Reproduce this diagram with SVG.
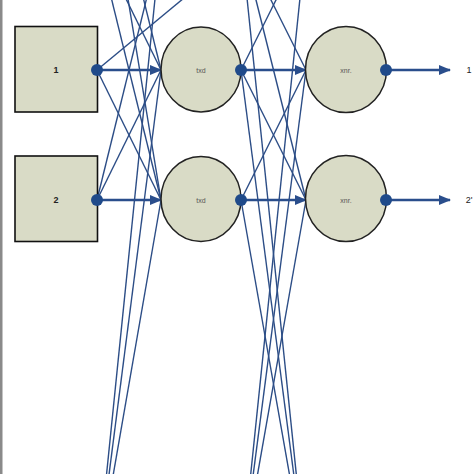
<svg xmlns="http://www.w3.org/2000/svg" width="474" height="474" viewBox="0 0 474 474">
<style>
.w{stroke:#2c4d86;stroke-width:1.4;fill:none}
.h{stroke:#2a4e8c;stroke-width:2.4;fill:none;marker-end:url(#ah)}
.box{fill:#d9dbc6;stroke:#111;stroke-width:1.6}
.neu{fill:#d9dbc6;stroke:#222;stroke-width:1.5}
.dot{fill:#1f4a8a}
.lb{font-family:"Liberation Sans",Arial,sans-serif;font-size:9px;font-weight:bold;fill:#222;text-anchor:middle;dominant-baseline:central}
.nt{font-family:"Liberation Sans",Arial,sans-serif;font-size:7px;fill:#555;text-anchor:middle;dominant-baseline:central}
</style>
<defs>
<marker id="ah" markerUnits="userSpaceOnUse" markerWidth="12" markerHeight="12" viewBox="0 0 12 12" refX="11" refY="6" orient="auto">
<path d="M0,1 L12,6 L0,11 Z" fill="#2a4e8c"/>
</marker>
</defs>
<rect x="0" y="0" width="2.5" height="474" fill="#8a8a8a"/>
<g id="connectors">
<line class="w" x1="97" y1="70" x2="161" y2="200"/>
<line class="w" x1="97" y1="200" x2="161" y2="70"/>
<line class="w" x1="97" y1="200" x2="161" y2="-60"/>
<line class="w" x1="97" y1="70" x2="184" y2="-2"/>
<line class="w" x1="97" y1="-60" x2="161" y2="70"/>
<line class="w" x1="97" y1="-60" x2="161" y2="200"/>
<line class="w" x1="97" y1="-190" x2="161" y2="70"/>
<line class="w" x1="97" y1="-190" x2="161" y2="200"/>
<line class="w" x1="97" y1="568" x2="161" y2="200"/>
<line class="w" x1="97" y1="568" x2="161" y2="70"/>
<line class="w" x1="97" y1="568" x2="161" y2="-60"/>
<line class="w" x1="241" y1="70" x2="306" y2="200"/>
<line class="w" x1="241" y1="200" x2="306" y2="70"/>
<line class="w" x1="241" y1="70" x2="306" y2="-60"/>
<line class="w" x1="241" y1="-60" x2="306" y2="70"/>
<line class="w" x1="241" y1="-60" x2="306" y2="200"/>
<line class="w" x1="241" y1="-60" x2="306" y2="568"/>
<line class="w" x1="241" y1="70" x2="306" y2="568"/>
<line class="w" x1="241" y1="200" x2="306" y2="568"/>
<line class="w" x1="241" y1="568" x2="306" y2="200"/>
<line class="w" x1="241" y1="568" x2="306" y2="70"/>
<line class="w" x1="241" y1="568" x2="306" y2="-60"/>
<line class="h" x1="97" y1="70" x2="161" y2="70"/>
<line class="h" x1="97" y1="200" x2="161" y2="200"/>
<line class="h" x1="241" y1="70" x2="306" y2="70"/>
<line class="h" x1="241" y1="200" x2="306" y2="200"/>
<line class="h" x1="386" y1="70" x2="450" y2="70"/>
<line class="h" x1="386" y1="200" x2="450" y2="200"/>
</g>
<g id="in1"><rect class="box" x="15" y="26.5" width="82.5" height="85.5"/><text class="lb" x="56" y="70">1</text></g>
<g id="in2"><rect class="box" x="15" y="156" width="82.5" height="85.5"/><text class="lb" x="56" y="200">2</text></g>
<g id="h1"><ellipse class="neu" cx="201" cy="69.5" rx="40" ry="42.5"/><text class="nt" x="201" y="70">txd</text></g>
<g id="h2"><ellipse class="neu" cx="201" cy="199" rx="40" ry="42.5"/><text class="nt" x="201" y="200">txd</text></g>
<g id="o1"><ellipse class="neu" cx="346" cy="69.5" rx="40.5" ry="43"/><text class="nt" x="346" y="70">xnr.</text></g>
<g id="o2"><ellipse class="neu" cx="346" cy="198.5" rx="40.5" ry="43"/><text class="nt" x="346" y="200">xnr.</text></g>
<g id="dots">
<circle class="dot" cx="97" cy="70" r="6"/>
<circle class="dot" cx="97" cy="200" r="6"/>
<circle class="dot" cx="241" cy="70" r="6"/>
<circle class="dot" cx="241" cy="200" r="6"/>
<circle class="dot" cx="386" cy="70" r="6"/>
<circle class="dot" cx="386" cy="200" r="6"/>
</g>
<g id="out1"><text class="lb" x="469" y="70" style="font-weight:normal">1</text></g>
<g id="out2"><text class="lb" x="469" y="200" style="font-weight:normal">2'</text></g>
</svg>
